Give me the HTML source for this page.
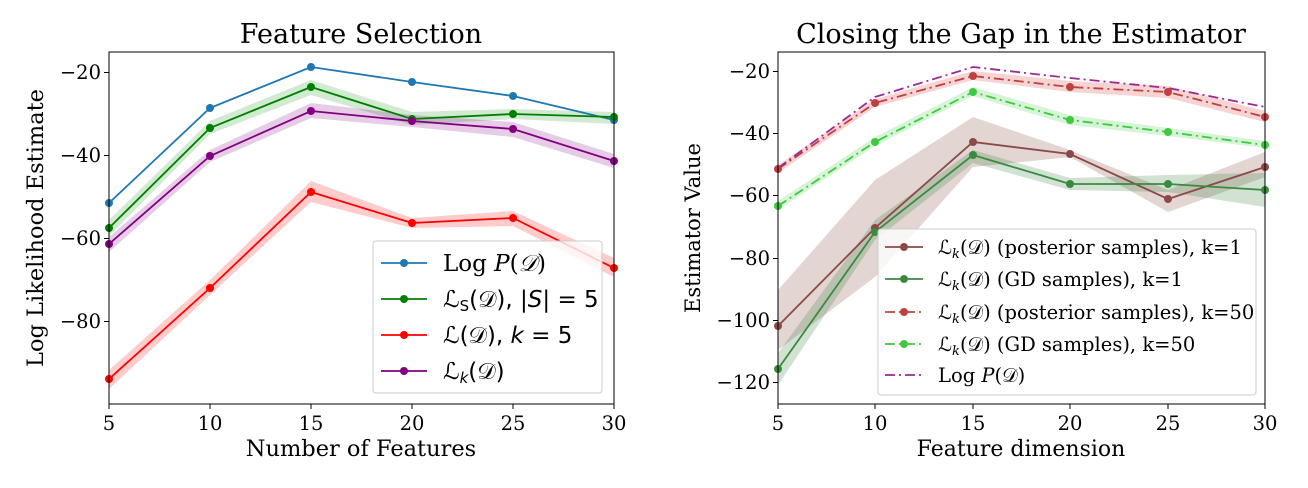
<!DOCTYPE html>
<html><head><meta charset="utf-8"><style>
html,body{margin:0;padding:0;background:#fff;}
svg{display:block;}
text{font-family:"DejaVu Serif","Liberation Serif",serif;fill:#000;}
.t{font-size:19.5px;}
.ti{font-size:27px;}
.m{font-family:"DejaVu Sans","Liberation Sans",sans-serif;}
</style></head><body>
<svg width="1308" height="488" viewBox="0 0 1308 488" xmlns="http://www.w3.org/2000/svg">
<text class="ti" x="361" y="43" text-anchor="middle">Feature Selection</text>
<polygon fill="#2ca02c" opacity="0.22" points="109,220 210,121 311,80 412,112 513,109 614,112 614,124 513,119 412,125 311,95 210,134 109,236"/>
<polygon fill="#800080" opacity="0.2" points="109,237 210,150 311,103 412,115 513,122 614,154 614,168 513,137 412,127 311,118 210,162 109,252"/>
<polygon fill="#ff0000" opacity="0.2" points="109,370 210,280 311,181 412,218 513,211 614,258 614,277 513,226 412,228 311,202 210,295 109,389"/>
<g fill="none" stroke-width="1.8">
<polyline stroke="#1f77b4" points="109,203 210,108 311,67 412,82 513,96 614,120"/>
<polyline stroke="#008000" points="109,228 210,128 311,87 412,119 513,114 614,117"/>
<polyline stroke="#ff0000" points="109,379 210,288 311,192 412,223 513,218 614,268"/>
<polyline stroke="#800080" points="109,244 210,156 311,111 412,121 513,129 614,161"/>
</g>
<g fill="#1f77b4"><circle cx="109" cy="203" r="4"/><circle cx="210" cy="108" r="4"/><circle cx="311" cy="67" r="4"/><circle cx="412" cy="82" r="4"/><circle cx="513" cy="96" r="4"/><circle cx="614" cy="120" r="4"/></g>
<g fill="#008000"><circle cx="109" cy="228" r="4"/><circle cx="210" cy="128" r="4"/><circle cx="311" cy="87" r="4"/><circle cx="412" cy="119" r="4"/><circle cx="513" cy="114" r="4"/><circle cx="614" cy="117" r="4"/></g>
<g fill="#ff0000"><circle cx="109" cy="379" r="4"/><circle cx="210" cy="288" r="4"/><circle cx="311" cy="192" r="4"/><circle cx="412" cy="223" r="4"/><circle cx="513" cy="218" r="4"/><circle cx="614" cy="268" r="4"/></g>
<g fill="#800080"><circle cx="109" cy="244" r="4"/><circle cx="210" cy="156" r="4"/><circle cx="311" cy="111" r="4"/><circle cx="412" cy="121" r="4"/><circle cx="513" cy="129" r="4"/><circle cx="614" cy="161" r="4"/></g>
<rect x="109" y="52" width="505" height="352" fill="none" stroke="#000" stroke-width="1"/>
<g stroke="#000"><line x1="104" y1="72.5" x2="109" y2="72.5"/><line x1="104" y1="155.5" x2="109" y2="155.5"/><line x1="104" y1="238.5" x2="109" y2="238.5"/><line x1="104" y1="321.5" x2="109" y2="321.5"/>
<line x1="109" y1="404" x2="109" y2="409"/><line x1="210" y1="404" x2="210" y2="409"/><line x1="311" y1="404" x2="311" y2="409"/><line x1="412" y1="404" x2="412" y2="409"/><line x1="513" y1="404" x2="513" y2="409"/><line x1="614" y1="404" x2="614" y2="409"/></g>
<g class="t" text-anchor="end"><text x="101" y="79">−20</text><text x="101" y="162">−40</text><text x="101" y="245">−60</text><text x="101" y="328">−80</text></g>
<g class="t" text-anchor="middle"><text x="109" y="430">5</text><text x="210" y="430">10</text><text x="311" y="430">15</text><text x="412" y="430">20</text><text x="513" y="430">25</text><text x="614" y="430">30</text></g>
<text class="t" x="361" y="456" text-anchor="middle" style="font-size:22.5px">Number of Features</text>
<text class="t" transform="translate(43,228) rotate(-90)" text-anchor="middle" style="font-size:22.5px">Log Likelihood Estimate</text>
<rect x="373" y="241" width="229" height="152" rx="3" fill="#fff" fill-opacity="0.8" stroke="#ccc"/>
<g stroke-width="1.8"><line x1="381" y1="263" x2="427" y2="263" stroke="#1f77b4"/><line x1="381" y1="299" x2="427" y2="299" stroke="#008000"/><line x1="381" y1="335" x2="427" y2="335" stroke="#ff0000"/><line x1="381" y1="371" x2="427" y2="371" stroke="#800080"/></g>
<circle cx="404" cy="263" r="4" fill="#1f77b4"/><circle cx="404" cy="299" r="4" fill="#008000"/><circle cx="404" cy="335" r="4" fill="#ff0000"/><circle cx="404" cy="371" r="4" fill="#800080"/>
<g style="font-size:23px"><text x="443" y="271">Log <tspan font-style="italic">P</tspan>(<tspan font-style="italic">𝒟</tspan>)</text>
<text x="443" y="307" class="m">ℒ<tspan font-size="15" dy="4">S</tspan><tspan dy="-4">(𝒟), |</tspan><tspan font-style="italic">S</tspan>| = 5</text>
<text x="443" y="343" class="m">ℒ(𝒟), <tspan font-style="italic">k</tspan> = 5</text>
<text x="443" y="379" class="m">ℒ<tspan font-size="15" dy="4" font-style="italic">k</tspan><tspan dy="-4">(𝒟)</tspan></text></g>

<text class="ti" x="1021" y="43" text-anchor="middle">Closing the Gap in the Estimator</text>
<polygon fill="#8c564b" opacity="0.25" points="778,290 875,180 973,117 1070,150 1168,190 1265,152 1265,177 1168,212 1070,157 973,167 875,277 778,350"/>
<polygon fill="#2e7d32" opacity="0.22" points="778,353 875,220 973,150 1070,178 1168,175 1265,173 1265,207 1168,192 1070,190 973,163 875,240 778,385"/>
<polygon fill="#d62728" opacity="0.2" points="778,165 875,99 973,71 1070,81 1168,86 1265,111 1265,122 1168,98 1070,92 973,80 875,107 778,173"/>
<polygon fill="#32cd32" opacity="0.2" points="778,201 875,137 973,87 1070,115 1168,128 1265,141 1265,148 1168,136 1070,125 973,96 875,146 778,210"/>
<g fill="none" stroke-width="1.8">
<polyline stroke="#8b4a48" points="778,326 875,228 973,142 1070,154 1168,199 1265,167"/>
<polyline stroke="#3a8a40" points="778,369 875,232 973,155 1070,184 1168,184 1265,190"/>
<polyline stroke="#c04040" stroke-dasharray="10,4,2,4" points="778,169 875,103 973,76 1070,87 1168,92 1265,117"/>
<polyline stroke="#40c840" stroke-dasharray="10,4,2,4" points="778,206 875,142 973,92 1070,120 1168,132 1265,145"/>
<polyline stroke="#9a2a9a" stroke-dasharray="10,4,2,4" points="778,168 875,97 973,67 1070,78 1168,88 1265,107"/>
</g>
<g fill="#8b4a48"><circle cx="778" cy="326" r="4"/><circle cx="875" cy="228" r="4"/><circle cx="973" cy="142" r="4"/><circle cx="1070" cy="154" r="4"/><circle cx="1168" cy="199" r="4"/><circle cx="1265" cy="167" r="4"/></g>
<g fill="#3a8a40"><circle cx="778" cy="369" r="4"/><circle cx="875" cy="232" r="4"/><circle cx="973" cy="155" r="4"/><circle cx="1070" cy="184" r="4"/><circle cx="1168" cy="184" r="4"/><circle cx="1265" cy="190" r="4"/></g>
<g fill="#c04040"><circle cx="778" cy="169" r="4"/><circle cx="875" cy="103" r="4"/><circle cx="973" cy="76" r="4"/><circle cx="1070" cy="87" r="4"/><circle cx="1168" cy="92" r="4"/><circle cx="1265" cy="117" r="4"/></g>
<g fill="#40c840"><circle cx="778" cy="206" r="4"/><circle cx="875" cy="142" r="4"/><circle cx="973" cy="92" r="4"/><circle cx="1070" cy="120" r="4"/><circle cx="1168" cy="132" r="4"/><circle cx="1265" cy="145" r="4"/></g>
<rect x="778" y="52" width="487" height="352" fill="none" stroke="#000" stroke-width="1"/>
<g stroke="#000"><line x1="773" y1="71.5" x2="778" y2="71.5"/><line x1="773" y1="133.5" x2="778" y2="133.5"/><line x1="773" y1="195.5" x2="778" y2="195.5"/><line x1="773" y1="258.5" x2="778" y2="258.5"/><line x1="773" y1="320.5" x2="778" y2="320.5"/><line x1="773" y1="382.5" x2="778" y2="382.5"/>
<line x1="778" y1="404" x2="778" y2="409"/><line x1="875" y1="404" x2="875" y2="409"/><line x1="973" y1="404" x2="973" y2="409"/><line x1="1070" y1="404" x2="1070" y2="409"/><line x1="1168" y1="404" x2="1168" y2="409"/><line x1="1265" y1="404" x2="1265" y2="409"/></g>
<g class="t" text-anchor="end"><text x="770" y="78">−20</text><text x="770" y="140">−40</text><text x="770" y="202">−60</text><text x="770" y="265">−80</text><text x="770" y="327">−100</text><text x="770" y="389">−120</text></g>
<g class="t" text-anchor="middle"><text x="778" y="430">5</text><text x="875" y="430">10</text><text x="973" y="430">15</text><text x="1070" y="430">20</text><text x="1168" y="430">25</text><text x="1265" y="430">30</text></g>
<text class="t" x="1021" y="456" text-anchor="middle" style="font-size:22px">Feature dimension</text>
<text class="t" transform="translate(700,228) rotate(-90)" text-anchor="middle" style="font-size:21px">Estimator Value</text>
<rect x="878" y="229" width="378" height="166" rx="3" fill="#fff" fill-opacity="0.8" stroke="#ccc"/>
<g stroke-width="1.8"><line x1="885" y1="247" x2="923" y2="247" stroke="#8b4a48"/><line x1="885" y1="279" x2="923" y2="279" stroke="#3a8a40"/><line x1="885" y1="312" x2="923" y2="312" stroke="#c04040" stroke-dasharray="10,4,2,4"/><line x1="885" y1="344" x2="923" y2="344" stroke="#40c840" stroke-dasharray="10,4,2,4"/><line x1="885" y1="375" x2="923" y2="375" stroke="#9a2a9a" stroke-dasharray="10,4,2,4"/></g>
<circle cx="904" cy="247" r="4" fill="#8b4a48"/><circle cx="904" cy="279" r="4" fill="#3a8a40"/><circle cx="904" cy="312" r="4" fill="#c04040"/><circle cx="904" cy="344" r="4" fill="#40c840"/>
<g style="font-size:19.5px">
<text x="938" y="254">ℒ<tspan font-size="13" dy="4" font-style="italic">k</tspan><tspan dy="-4">(𝒟) (posterior samples), k=1</tspan></text>
<text x="938" y="286">ℒ<tspan font-size="13" dy="4" font-style="italic">k</tspan><tspan dy="-4">(𝒟) (GD samples), k=1</tspan></text>
<text x="938" y="319">ℒ<tspan font-size="13" dy="4" font-style="italic">k</tspan><tspan dy="-4">(𝒟) (posterior samples), k=50</tspan></text>
<text x="938" y="351">ℒ<tspan font-size="13" dy="4" font-style="italic">k</tspan><tspan dy="-4">(𝒟) (GD samples), k=50</tspan></text>
<text x="938" y="382">Log <tspan font-style="italic">P</tspan>(𝒟)</text></g>
</svg>
</body></html>
